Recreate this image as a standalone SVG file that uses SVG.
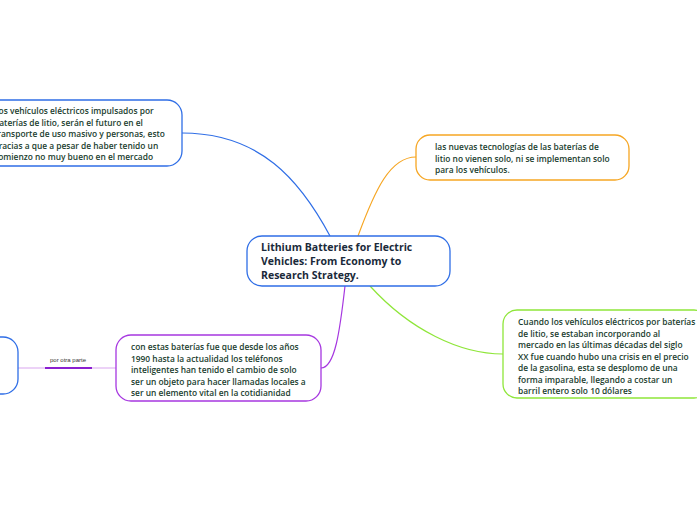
<svg xmlns="http://www.w3.org/2000/svg" width="697" height="520" viewBox="0 0 697 520">
<style>
.t{font-family:"Open Sans","Noto Sans",sans-serif;font-size:8.4px;font-weight:600;fill:#1a3d2e}
.c{font-family:"Open Sans","Noto Sans",sans-serif;font-size:10.5px;font-weight:700;fill:#1a2a3a}
.n{fill:#fff;stroke-width:1.3}
</style>
<rect width="697" height="520" fill="#fff"/>
<g id="connectors" fill="none" stroke-width="1.2">
<path d="M330,236 C300,180 260,133 182,133" stroke="#2f6ee6"/>
<path d="M358,236 C375,190 390,157 416,157" stroke="#f6a623"/>
<path d="M370,286 C410,330 460,354 503,354" stroke="#8fe63a"/>
<path d="M345,286 C340,330 335,368 321,368" stroke="#a637e0"/>
<path d="M18,368 L116,368" stroke="#d9a6f0"/>
<path d="M45,368 L92,368" stroke="#8a1fd0" stroke-width="2"/>
<text x="68" y="362" text-anchor="middle" font-family="Liberation Sans,sans-serif" font-size="6" fill="#333" stroke="none">por otra parte</text>
</g>
<g id="center">
<rect class="n" x="247" y="236" width="203" height="50" rx="15" stroke="#2f6ee6"/>
<text class="c"><tspan x="261" y="251">Lithium Batteries for Electric</tspan><tspan x="261" y="265">Vehicles: From Economy to</tspan><tspan x="261" y="279">Research Strategy.</tspan></text>
</g>
<g id="n1">
<rect class="n" x="-30" y="100" width="212" height="66" rx="15" stroke="#2f6ee6"/>
<text class="t"><tspan x="-6" y="114">Los vehículos eléctricos impulsados por</tspan><tspan x="-6" y="125.5">baterías de litio, serán el futuro en el</tspan><tspan x="-6" y="137">transporte de uso masivo y personas, esto</tspan><tspan x="-6" y="148.5">gracias a que a pesar de haber tenido un</tspan><tspan x="-6" y="160">comienzo no muy bueno en el mercado</tspan></text>
</g>
<g id="n2">
<rect class="n" x="416" y="135" width="213" height="45" rx="14" stroke="#f6a623"/>
<text class="t"><tspan x="435" y="150">las nuevas tecnologías de las baterías de</tspan><tspan x="435" y="161.5">litio no vienen solo, ni se implementan solo</tspan><tspan x="435" y="173">para los vehículos.</tspan></text>
</g>
<g id="n3">
<rect class="n" x="503" y="310" width="205" height="88" rx="14" stroke="#8fe63a"/>
<text class="t"><tspan x="518" y="325">Cuando los vehículos eléctricos por baterías</tspan><tspan x="518" y="336.5">de litio, se estaban incorporando al</tspan><tspan x="518" y="348">mercado en las últimas décadas del siglo</tspan><tspan x="518" y="359.5">XX fue cuando hubo una crisis en el precio</tspan><tspan x="518" y="371">de la gasolina, esta se desplomo de una</tspan><tspan x="518" y="382.5">forma imparable, llegando a costar un</tspan><tspan x="518" y="394">barril entero solo 10 dólares</tspan></text>
</g>
<g id="n4">
<rect class="n" x="116" y="335" width="205" height="66" rx="15" stroke="#a637e0"/>
<text class="t"><tspan x="131" y="350">con estas baterías fue que desde los años</tspan><tspan x="131" y="361.5">1990 hasta la actualidad los teléfonos</tspan><tspan x="131" y="373">inteligentes han tenido el cambio de solo</tspan><tspan x="131" y="384.5">ser un objeto para hacer llamadas locales a</tspan><tspan x="131" y="396">ser un elemento vital en la cotidianidad</tspan></text>
</g>
<g id="n5">
<rect class="n" x="-50" y="337" width="68" height="57" rx="15" stroke="#2f6ee6"/>
</g>
</svg>
